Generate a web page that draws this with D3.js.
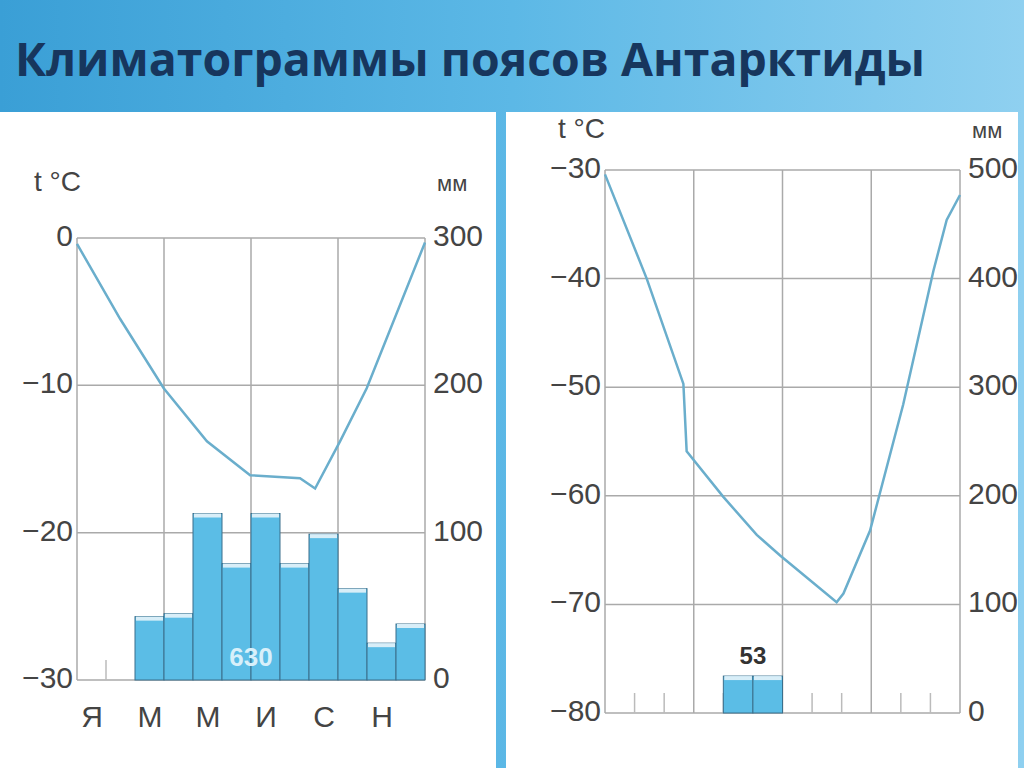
<!DOCTYPE html>
<html><head><meta charset="utf-8">
<script src="https://cdn.jsdelivr.net/npm/d3@7"></script>
<style>body{margin:0}svg{display:block}</style>
</head><body>
<svg id="svg" width="1024" height="768"></svg>
<script>
// left chart (coastal)
var monthsL = ["Я","","М","","М","","И","","С","","Н",""];
var tempPosL = [0, 1.49, 2.99, 4.48, 5.97, 7.69, 8.21, 9.07, 9.99, 12];
var tempL    = [-0.4, -5.5, -10.2, -13.8, -16.1, -16.3, -17, -13.8, -10.2, -0.3];
var precL    = [0, 0, 43, 45, 113, 79, 113, 79, 99, 62, 25, 38];
var tTicksL = [0, -10, -20, -30];
var pTicksL = [300, 200, 100, 0];
// right chart (interior)
var tempPosR = [0, 1.41, 2.65, 2.76, 4, 5.13, 5.92, 7.83, 8.06, 8.96, 10.08, 11.1, 11.55, 12];
var tempR    = [-30.4, -40, -49.7, -55.9, -60.1, -63.6, -65.5, -69.8, -69, -63.2, -51.6, -39.3, -34.6, -32.3];
var precR    = [0, 0, 0, 0, 34, 34, 0, 0, 0, 0, 0, 0];
var tTicksR = [-30, -40, -50, -60, -70, -80];
var pTicksR = [500, 400, 300, 200, 100, 0];

var svg = d3.select("#svg");
var defs = svg.append("defs");
var g = defs.append("linearGradient").attr("id","bg").attr("x1",0).attr("x2",1).attr("y1",0).attr("y2",0);
g.append("stop").attr("offset","0").attr("stop-color","#3a9fd6");
g.append("stop").attr("offset","0.5").attr("stop-color","#5cb8e6");
g.append("stop").attr("offset","1").attr("stop-color","#8fd0f0");
svg.append("rect").attr("width",1024).attr("height",768).attr("fill","url(#bg)");
svg.append("rect").attr("x",0).attr("y",112).attr("width",496).attr("height",656).attr("fill","#fff");
svg.append("rect").attr("x",506).attr("y",112).attr("width",512).attr("height",656).attr("fill","#fff");
svg.append("text").attr("x",15).attr("y",76).text("Климатограммы поясов Антарктиды")
  .attr("textLength",910).attr("lengthAdjust","spacingAndGlyphs")
  .style("font-family","Open Sans").style("font-weight","700").style("font-size","46px").style("fill","#17365d");

var font = "Liberation Sans";
function chart(o){
  var x = d3.scaleLinear().domain([0,12]).range([o.x0,o.x1]);
  var yt = d3.scaleLinear().domain(o.tDom).range([o.y1,o.y0]);
  var yp = d3.scaleLinear().domain(o.pDom).range([o.y1,o.y0]);
  var c = svg.append("g");
  o.tTicks.forEach(function(t){
    c.append("line").attr("x1",x(0)).attr("x2",x(12)).attr("y1",yt(t)).attr("y2",yt(t)).style("stroke","#aaa").style("stroke-width",1.5);
    c.append("text").attr("x",x(0)-4).attr("y",yt(t)).text(t===0?"0":"\u2212"+Math.abs(t)).attr("text-anchor","end")
      .attr("dominant-baseline","middle").style("font-family",font).style("font-size","30px").style("fill","#444");
  });
  o.pTicks.forEach(function(p){
    c.append("text").attr("x",x(12)+8).attr("y",yp(p)).text(p).attr("dominant-baseline","middle")
      .style("font-family",font).style("font-size","30px").style("fill","#444");
  });
  d3.range(0,13,3).forEach(function(m){
    c.append("line").attr("x1",x(m)).attr("x2",x(m)).attr("y1",o.y0).attr("y2",o.y1).style("stroke","#aaa").style("stroke-width",1.5);
  });
  o.minor.forEach(function(m){
    c.append("line").attr("x1",x(m)).attr("x2",x(m)).attr("y1",o.y1-20).attr("y2",o.y1).style("stroke","#bbb").style("stroke-width",1.5);
  });
  o.prec.forEach(function(d,i){
    if(d<=0) return;
    c.append("rect").attr("x",x(i)).attr("y",yp(d)).attr("width",x(i+1)-x(i)).attr("height",o.y1-yp(d))
      .style("fill","#5bbde6").style("stroke","#3a6f8c").style("stroke-width",1);
    c.append("rect").attr("x",x(i)+1).attr("y",yp(d)).attr("width",x(i+1)-x(i)-2).attr("height",4).style("fill","#d8eef8");
  });
  var pts = o.pos.map(function(p,i){return [x(p), yt(o.temp[i])];});
  c.append("path").attr("d",d3.line()(pts)).style("fill","none").style("stroke","#6aaecc").style("stroke-width",2.5);
  c.append("text").attr("x",o.tx).attr("y",o.ty).text("t \u00b0C").style("font-family",font).style("font-size","28px").style("fill","#444");
  c.append("text").attr("x",o.mx).attr("y",o.ty).text("мм").style("font-family",font).style("font-size","22px").style("fill","#444");
  return {x:x, yp:yp, g:c};
}

var L = chart({x0:77,x1:425,y0:238,y1:680,tDom:[-30,0],pDom:[0,300],tTicks:tTicksL,pTicks:pTicksL,
  pos:tempPosL,temp:tempL,prec:precL,minor:[1],tx:34,ty:191,mx:437});
monthsL.forEach(function(m,i){
  if(!m) return;
  L.g.append("text").attr("x",L.x(i)+15).attr("y",727).text(m).attr("text-anchor","middle")
    .style("font-family",font).style("font-size","30px").style("fill","#444");
});
L.g.append("text").attr("x",L.x(6)).attr("y",666).text("630").attr("text-anchor","middle")
  .style("font-family",font).style("font-weight","700").style("font-size","26px").style("fill","#d8f0fa");

var R = chart({x0:605,x1:960,y0:170,y1:713,tDom:[-80,-30],pDom:[0,500],tTicks:tTicksR,pTicks:pTicksR,
  pos:tempPosR,temp:tempR,prec:precR,minor:[1,2,4,5,7,8,10,11],tx:558,ty:138,mx:972});
R.g.append("text").attr("x",R.x(5)).attr("y",664).text("53").attr("text-anchor","middle")
  .style("font-family",font).style("font-weight","700").style("font-size","24px").style("fill","#333");
</script>
</body></html>
